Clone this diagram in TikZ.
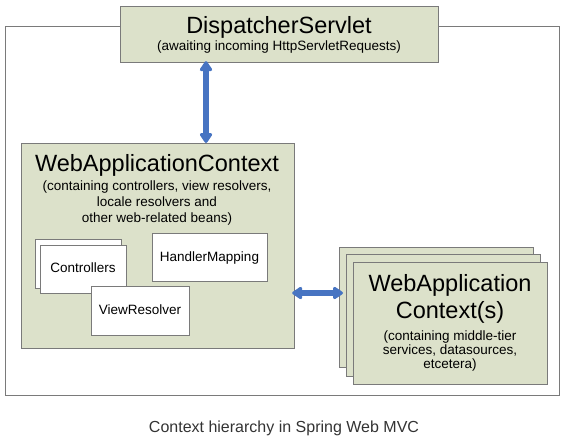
\documentclass[tikz,border=0pt]{standalone}
\usepackage{fontspec}
\setmainfont{Liberation Sans}
\usetikzlibrary{arrows.meta}
\definecolor{boxfill}{HTML}{DCE1CA}
\definecolor{boxline}{HTML}{7A7A7A}
\definecolor{arrowblue}{HTML}{4774C2}
\definecolor{captext}{HTML}{333333}
\newcommand\dgtitle{\fontsize{23.5}{27}\selectfont}
\newcommand\dgsub{\fontsize{13.5}{15.8}\selectfont}
\begin{document}
\begin{tikzpicture}[x=1pt,y=-1pt,
  outerbox/.style={draw=boxline, line width=1.1pt},
  ctxbox/.style={draw=boxline, fill=boxfill, line width=1.2pt, inner sep=0pt, anchor=north west},
  beanbox/.style={draw=boxline, fill=white, line width=1.2pt, inner sep=0pt, anchor=north west},
  bigtext/.style={font=\dgtitle, anchor=base, inner sep=0pt},
  smalltext/.style={font=\dgsub, anchor=base, inner sep=0pt},
  bluearrow/.style={draw=arrowblue, line width=6.5pt, {Triangle[width=14pt,length=11pt,round]}-{Triangle[width=14pt,length=11pt,round]}}
]
\useasboundingbox (0,0) rectangle (567,442);
% outer frame
\node[outerbox, inner sep=0pt, anchor=north west, minimum width=554pt, minimum height=369pt] (frame) at (5,26) {};
% DispatcherServlet
\node[ctxbox, minimum width=318pt, minimum height=56pt] (ds) at (120,6) {};
\node[bigtext] (dst) at (279,33.3) {DispatcherServlet};
\node[smalltext] (dss) at (279,50) {(awaiting incoming HttpServletRequests)};
% WebApplicationContext
\node[ctxbox, minimum width=273pt, minimum height=205pt] (wac) at (21,143) {};
\node[bigtext] (wact) at (157,171.7) {WebApplicationContext};
\node[smalltext] (wacs1) at (157,190.7) {(containing controllers, view resolvers,};
\node[smalltext] (wacs2) at (157,206.7) {locale resolvers and};
\node[smalltext] (wacs3) at (157,222.3) {other web-related beans)};
% beans
\node[beanbox, minimum width=86pt, minimum height=49pt] (cb) at (35,239) {};
\node[beanbox, minimum width=86pt, minimum height=48pt] (cf) at (40,245) {};
\node[smalltext] (cft) at (83,272.3) {Controllers};
\node[beanbox, minimum width=115pt, minimum height=48pt] (hm) at (152,233) {};
\node[smalltext] (hmt) at (209.5,261) {HandlerMapping};
\node[beanbox, minimum width=98pt, minimum height=49pt] (vr) at (91,286) {};
\node[smalltext] (vrt) at (140,314) {ViewResolver};
% right stacked contexts
\node[ctxbox, minimum width=194pt, minimum height=120pt] (wr1) at (339,247) {};
\node[ctxbox, minimum width=194pt, minimum height=122pt] (wr2) at (346,254) {};
\node[ctxbox, minimum width=194pt, minimum height=122pt] (wr3) at (353,262) {};
\node[bigtext] (wrt1) at (450,291) {WebApplication};
\node[bigtext] (wrt2) at (450,318) {Context(s)};
\node[smalltext] (wrs1) at (450,340) {(containing middle-tier};
\node[smalltext] (wrs2) at (450,354.3) {services, datasources,};
\node[smalltext] (wrs3) at (450,368) {etcetera)};
% arrows
\coordinate (varrow) at (206,0);
\coordinate (harrow) at (0,293);
\draw[bluearrow, shorten <=-2pt] (ds.south -| varrow) -- (wac.north -| varrow);
\draw[bluearrow, shorten <=-3pt, shorten >=-4pt] (wac.east |- harrow) -- (wr1.west |- harrow);
% caption
\node[font=\fontsize{16}{19}\selectfont, text=captext, anchor=base, inner sep=0pt] (cap) at (284,432.3) {Context hierarchy in Spring Web MVC};
\end{tikzpicture}
\end{document}
